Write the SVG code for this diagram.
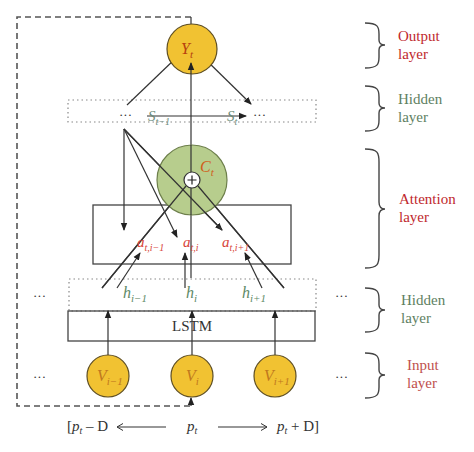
<svg xmlns="http://www.w3.org/2000/svg" width="474" height="452" viewBox="0 0 474 452">
<style>
.ln{stroke:#333;stroke-width:1.2;fill:none}
.box{stroke:#444;stroke-width:1.3;fill:none}
.dot{stroke:#888;stroke-width:1.2;fill:none;stroke-dasharray:1.5 3}
.dash{stroke:#555;stroke-width:1.6;fill:none;stroke-dasharray:6 4}
.yel{fill:#f1c232;stroke:#5e4e22;stroke-width:1.2}
.grn{fill:#b7cd8d;stroke:#6d7f4b;stroke-width:1.2}
.t{font-family:"Liberation Serif",serif;font-style:italic}
.n{font-family:"Liberation Serif",serif}
.brace{stroke:#444;stroke-width:1.4;fill:none}
.red{fill:#c0282d}
.gr{fill:#5e7f62}
.ell{font-family:"Liberation Serif",serif;font-size:13px;fill:#333}
</style>
<defs>
<marker id="ah" markerWidth="8" markerHeight="8" refX="7" refY="4" orient="auto" markerUnits="userSpaceOnUse">
<path d="M0,0.8 L8,4 L0,7.2 Z" fill="#222"/>
</marker>
<marker id="oa" markerWidth="8" markerHeight="8" refX="7" refY="4" orient="auto" markerUnits="userSpaceOnUse">
<path d="M1,0.5 L7,4 L1,7.5" fill="none" stroke="#333" stroke-width="1"/>
</marker>
</defs>

<g id="frame">
<path class="dash" d="M191,17 L17,17 L17,406 L191,406"/>
<line class="ln" x1="191" y1="17" x2="191" y2="24"/>
<line class="ln" x1="191" y1="406" x2="191" y2="398" marker-end="url(#ah)"/>
</g>

<g id="hidden-top">
<rect class="dot" x="68" y="100" width="248" height="22"/>
<text class="ell" x="119" y="119">···</text>
<text class="ell" x="253" y="119">···</text>
</g>
<g id="attention-box">
<rect class="box" x="93" y="205" width="198" height="59"/>
</g>
<g id="hidden-bottom">
<rect class="dot" x="69" y="279" width="247" height="32"/>
<text class="ell" x="33" y="300">···</text>
<text class="ell" x="335" y="300">···</text>
</g>
<g id="lstm">
<rect class="box" x="68" y="311" width="247" height="30"/>
<text class="n" x="192" y="331" font-size="15" fill="#333" text-anchor="middle">LSTM</text>
</g>
<g id="input-dots">
<text class="ell" x="33" y="381">···</text>
<text class="ell" x="335" y="381">···</text>
</g>

<g id="connectors">
<line class="ln" x1="191" y1="278" x2="191" y2="63" marker-end="url(#ah)"/>
<line class="ln" x1="127" y1="105" x2="176" y2="58" marker-end="url(#ah)"/>
<line class="ln" x1="202" y1="56" x2="251" y2="104" marker-end="url(#ah)"/>
<line class="ln" x1="147" y1="116" x2="246" y2="116" marker-end="url(#ah)"/>
<line class="ln" x1="124" y1="129" x2="124" y2="230" marker-end="url(#ah)"/>
<line class="ln" x1="124" y1="129" x2="177" y2="237" marker-end="url(#ah)"/>
<line class="ln" x1="124" y1="129" x2="222" y2="230" marker-end="url(#ah)"/>
<line class="ln" x1="102" y1="288" x2="186" y2="186"/>
<line class="ln" x1="284" y1="288" x2="198" y2="186"/>
<line class="ln" x1="117" y1="288" x2="140" y2="253" marker-end="url(#ah)"/>
<line class="ln" x1="185" y1="288" x2="185" y2="253" marker-end="url(#ah)"/>
<line class="ln" x1="262" y1="288" x2="245" y2="253" marker-end="url(#ah)"/>
<line class="ln" x1="108" y1="355" x2="108" y2="311" marker-end="url(#ah)"/>
<line class="ln" x1="192" y1="355" x2="192" y2="311" marker-end="url(#ah)"/>
<line class="ln" x1="275" y1="355" x2="275" y2="311" marker-end="url(#ah)"/>
<line class="ln" x1="166" y1="427" x2="117" y2="427" marker-end="url(#oa)"/>
<line class="ln" x1="218" y1="427" x2="267" y2="427" marker-end="url(#oa)"/>
</g>

<g id="node-Yt">
<circle class="yel" cx="192" cy="49" r="25"/>
<line class="ln" x1="191" y1="74" x2="191" y2="63" marker-end="url(#ah)"/>
<text class="t" x="181" y="54" font-size="16" fill="#b7410e">Y<tspan font-size="11" dy="4">t</tspan></text>
</g>

<g id="labels-S">
<text class="t" x="148" y="121" font-size="15" fill="#6b8b7a">S<tspan font-size="10" dy="4">t−1</tspan></text>
<text class="t" x="227" y="121" font-size="15" fill="#6b8b7a">S<tspan font-size="10" dy="4">t</tspan></text>
</g>

<g id="node-Ct">
<circle class="grn" cx="192" cy="180" r="35"/>
<line class="ln" x1="191" y1="145" x2="191" y2="215"/>
<line class="ln" x1="124" y1="129" x2="222" y2="230"/>
<line class="ln" x1="102" y1="288" x2="186" y2="186"/>
<line class="ln" x1="284" y1="288" x2="198" y2="186"/>
<text class="t" x="200" y="172" font-size="16" fill="#d0601a">C<tspan font-size="11" dy="4">t</tspan></text>
<circle cx="192" cy="180" r="8" fill="#fff" stroke="#333" stroke-width="1.2"/>
<path d="M187.5,180 H196.5 M192,175.5 V184.5" stroke="#222" stroke-width="1.2"/>
</g>

<g id="labels-a">
<text class="t" x="137" y="247" font-size="15" fill="#d8443a">a<tspan font-size="10" dy="4">t,i−1</tspan></text>
<text class="t" x="183" y="247" font-size="15" fill="#d8443a">a<tspan font-size="10" dy="4">t,i</tspan></text>
<text class="t" x="222" y="247" font-size="15" fill="#d8443a">a<tspan font-size="10" dy="4">t,i+1</tspan></text>
</g>

<g id="labels-h">
<text class="t" x="123" y="298" font-size="16" fill="#5e8a66">h<tspan font-size="11" dy="4">i−1</tspan></text>
<text class="t" x="186" y="298" font-size="16" fill="#5e8a66">h<tspan font-size="11" dy="4">i</tspan></text>
<text class="t" x="242" y="298" font-size="16" fill="#5e8a66">h<tspan font-size="11" dy="4">i+1</tspan></text>
</g>

<g id="node-Vim1">
<circle class="yel" cx="108" cy="376" r="21"/>
<text class="t" x="97" y="381" font-size="16" fill="#c0781e">V<tspan font-size="11" dy="4">i−1</tspan></text>
</g>
<g id="node-Vi">
<circle class="yel" cx="192" cy="376" r="21"/>
<text class="t" x="186" y="381" font-size="16" fill="#c0781e">V<tspan font-size="11" dy="4">i</tspan></text>
</g>
<g id="node-Vip1">
<circle class="yel" cx="275" cy="376" r="21"/>
<text class="t" x="264" y="381" font-size="16" fill="#c0781e">V<tspan font-size="11" dy="4">i+1</tspan></text>
</g>

<g id="axis-labels" font-size="15" fill="#333">
<text class="n" x="67" y="431">[<tspan class="t">p</tspan><tspan class="t" font-size="10" dy="3">t</tspan><tspan dy="-3"> – D</tspan></text>
<text class="t" x="187" y="431">p<tspan font-size="10" dy="3">t</tspan></text>
<text class="n" x="277" y="431"><tspan class="t">p</tspan><tspan class="t" font-size="10" dy="3">t</tspan><tspan dy="-3"> + D]</tspan></text>
</g>

<g id="braces">
<path class="brace" d="M365,23 C378,23 379,27 379,34 L379,40 C379,44 381,45 385,45 C381,45 379,46 379,50 L379,57 C379,64 378,68 365,68"/>
<path class="brace" d="M365,86 C378,86 379,90 379,97 L379,103 C379,107 381,108 385,108 C381,108 379,109 379,113 L379,120 C379,127 378,131 365,131"/>
<path class="brace" d="M365,149 C378,149 379,153 379,162 L379,202 C379,207 381,209 385,209 C381,209 379,211 379,216 L379,255 C379,264 378,268 365,268"/>
<path class="brace" d="M365,288 C378,288 379,292 379,299 L379,305 C379,309 381,310 385,310 C381,310 379,311 379,315 L379,321 C379,328 378,332 365,332"/>
<path class="brace" d="M365,353 C378,353 379,357 379,364 L379,370 C379,374 381,375 385,375 C381,375 379,376 379,380 L379,387 C379,394 378,398 365,398"/>
</g>
<g id="layer-labels" font-size="15">
<text class="n red" x="398" y="41">Output</text>
<text class="n red" x="398" y="59">layer</text>
<text class="n gr" x="398" y="104">Hidden</text>
<text class="n gr" x="398" y="122">layer</text>
<text class="n red" x="399" y="204">Attention</text>
<text class="n red" x="399" y="222">layer</text>
<text class="n gr" x="401" y="305">Hidden</text>
<text class="n gr" x="401" y="323">layer</text>
<text class="n" x="407" y="370" fill="#c0504d">Input</text>
<text class="n" x="407" y="388" fill="#c0504d">layer</text>
</g>
</svg>
